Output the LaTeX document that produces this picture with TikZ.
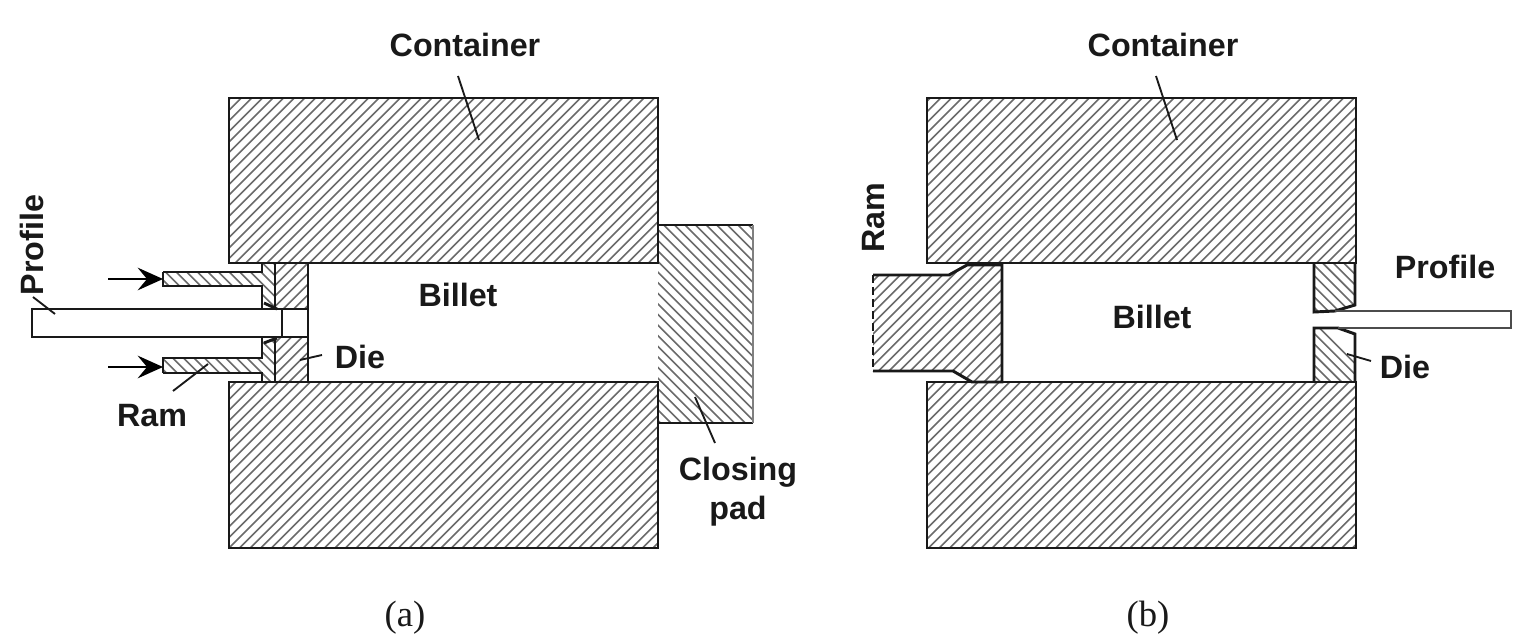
\documentclass[tikz,border=0pt]{standalone}
\usepackage{fontspec}
\setmainfont{Liberation Sans}
\newfontfamily\capfont{Liberation Serif}
\usetikzlibrary{arrows.meta}
\newcommand{\slashes}[1]{\foreach \k in {0,10.6,...,1800} \draw[hatchline] (\k,#1) -- (\k-500,#1+500);}
\newcommand{\backslashes}[1]{\foreach \k in {0,10.6,...,1800} \draw[hatchline] (\k-500,#1) -- (\k,#1+500);}
\tikzset{
  hatchline/.style={line width=1.2pt,black!58},
  outline/.style={line width=2.2pt,black!90,line join=miter},
  thinoutline/.style={line width=1.6pt,black!70},
  leader/.style={line width=1.4pt,black!90},
  label/.style={font=\fontsize{24.2}{26}\selectfont\bfseries,text=black!90,inner sep=0pt,align=center},
  caption/.style={font=\capfont\fontsize{27.5}{28}\selectfont,text=black!90,inner sep=0pt},
  push/.style={line width=1.8pt,-{Stealth[length=19pt,width=17pt,inset=7pt]}},
}
\begin{document}
\begin{tikzpicture}[x=0.75pt,y=-0.75pt]
\useasboundingbox (0,0) rectangle (1513,641);
\fill[white] (0,0) rectangle (1513,641);
% ---------- hatching, panel (a)
\begin{scope}\clip (229,98) rectangle (658,263); \slashes{0}\end{scope}
\begin{scope}\clip (229,382) rectangle (658,548); \slashes{300}\end{scope}
\begin{scope}\clip (658,225) rectangle (753,423); \backslashes{100}\end{scope}
\begin{scope}\clip (275,263) rectangle (308,309); \slashes{200}\end{scope}
\begin{scope}\clip (275,337) rectangle (308,382); \slashes{300}\end{scope}
\begin{scope}\clip (163,272) -- (262,272) -- (262,263) -- (275,263) -- (275,309) -- (262,303) -- (262,286) -- (163,286) -- cycle; \backslashes{200}\end{scope}
\begin{scope}\clip (163,358) -- (262,358) -- (262,343) -- (275,337) -- (275,382) -- (262,382) -- (262,373) -- (163,373) -- cycle; \backslashes{300}\end{scope}
% ---------- outlines, panel (a)
\draw[outline] (229,98) rectangle (658,263);
\draw[outline] (229,382) rectangle (658,548);
\draw[outline] (658,225) -- (753,225);
\draw[outline] (658,423) -- (753,423);
\draw[line width=2pt,black!50] (753,225) -- (753,423);
\draw[outline] (308,263) -- (308,382);
\draw[outline] (275,263) -- (275,309);
\draw[outline] (275,337) -- (275,382);
\draw[outline] (163,272) -- (262,272) -- (262,263);
\draw[outline] (163,272) -- (163,286) -- (262,286) -- (262,309);
\draw[outline] (163,373) -- (163,358) -- (262,358) -- (262,337);
\draw[outline] (163,373) -- (262,373) -- (262,382);
\draw[outline] (32,309) -- (308,309);
\draw[outline] (32,337) -- (308,337);
\draw[outline] (32,308) -- (32,338);
\draw[outline] (282,309) -- (282,337);
\draw[outline] (264,303) -- (277,309);
\draw[outline] (264,343) -- (277,338);
% ---------- hatching, panel (b)
\begin{scope}\clip (927,98) rectangle (1356,263); \slashes{0}\end{scope}
\begin{scope}\clip (927,382) rectangle (1356,548); \slashes{300}\end{scope}
\begin{scope}\clip (873,275) -- (949,275) -- (967,265) -- (1002,265) -- (1002,382) -- (972,382) -- (953,371) -- (873,371) -- cycle; \slashes{200}\end{scope}
\begin{scope}\clip (1314,264) -- (1355,264) -- (1355,305) -- (1335,311) -- (1314,312) -- cycle; \backslashes{200}\end{scope}
\begin{scope}\clip (1314,328) -- (1338,328) -- (1355,334) -- (1355,382) -- (1314,382) -- cycle; \backslashes{300}\end{scope}
% ---------- outlines, panel (b)
\draw[outline] (927,98) rectangle (1356,263);
\draw[outline] (927,382) rectangle (1356,548);
\draw[outline] (873,275) -- (949,275) -- (967,265) -- (1002,265) -- (1002,382) -- (972,382) -- (953,371) -- (873,371);
\draw[outline,dash pattern=on 6pt off 3pt] (873,275) -- (873,371);
\draw[outline] (1355,264) -- (1355,305) -- (1335,311) -- (1314,312) -- (1314,264);
\draw[outline] (1314,382) -- (1314,328) -- (1338,328) -- (1355,334) -- (1355,382);
\draw[thinoutline] (1335,311) -- (1511,311) -- (1511,328) -- (1338,328);
% ---------- labels
\node[label] (containerA) at (465,45) {Container};
\node[label] (billetA) at (458,295) {Billet};
\node[label] (dieA) at (360,357) {Die};
\node[label] (ramA) at (152,416) {Ram};
\node[label] (padClosing) at (738,472) {Closing};
\node[label] (padWord) at (738,511) {pad};
\node[label,rotate=90] (profileA) at (32,245) {Profile};
\node[label] (containerB) at (1163,45) {Container};
\node[label,rotate=90] (ramB) at (874,218) {Ram};
\node[label] (billetB) at (1152,317) {Billet};
\node[label] (profileB) at (1445,267) {Profile};
\node[label] (dieB) at (1405,367) {Die};
\node[caption] (capA) at (405,618) {(a)};
\node[caption] (capB) at (1148,618) {(b)};
% ---------- leaders
\coordinate (lc1s) at (458,76); \coordinate (lc1e) at (479,140);
\coordinate (lc2s) at (1156,76); \coordinate (lc2e) at (1177,140);
\coordinate (lp1s) at (33,297); \coordinate (lp1e) at (55,314);
\coordinate (lr1s) at (173,391); \coordinate (lr1e) at (208,364);
\coordinate (ld1s) at (322,355); \coordinate (ld1e) at (300,360);
\coordinate (lc3s) at (715,443); \coordinate (lc3e) at (695,397);
\coordinate (ld2s) at (1371,361); \coordinate (ld2e) at (1347,354);
\foreach \a/\b in {lc1s/lc1e,lc2s/lc2e,lp1s/lp1e,lr1s/lr1e,ld1s/ld1e,lc3s/lc3e,ld2s/ld2e}
  \draw[leader] (\a) -- (\b);
% ---------- push arrows
\coordinate (a1s) at (108,279); \coordinate (a1e) at (163,279);
\coordinate (a2s) at (108,367); \coordinate (a2e) at (163,367);
\draw[push] (a1s) -- (a1e);
\draw[push] (a2s) -- (a2e);
\end{tikzpicture}
\end{document}
